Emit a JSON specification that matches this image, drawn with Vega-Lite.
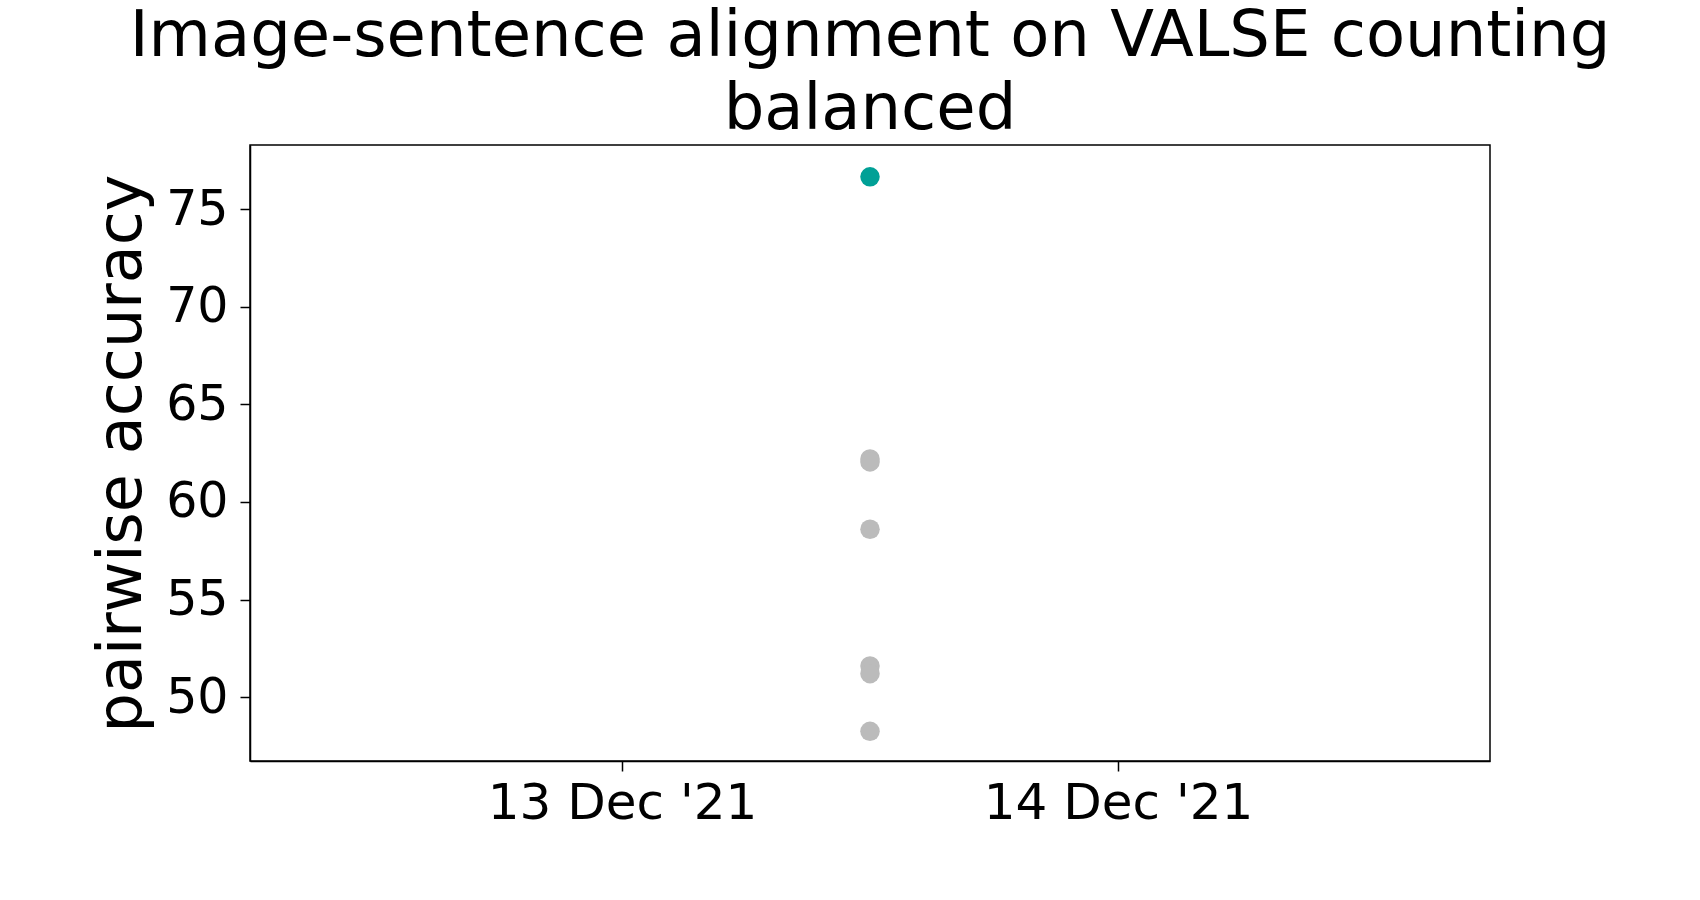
{
  "$schema": "https://vega.github.io/schema/vega-lite/v6.json",
  "autosize": "none",
  "width": 1240,
  "height": 616,
  "padding": {"left": 250, "top": 145, "right": 210, "bottom": 139},
  "background": "white",
  "title": {
    "text": ["Image-sentence alignment on VALSE counting", "balanced"],
    "font": "DejaVu Sans",
    "fontSize": 64,
    "fontWeight": "normal",
    "lineHeight": 73,
    "anchor": "middle",
    "frame": "group",
    "color": "black",
    "offset": 3
  },
  "data": {
    "values": [
      {"date": "2021-12-13T12:00:00Z", "accuracy": 76.65, "group": "best"},
      {"date": "2021-12-13T12:00:00Z", "accuracy": 62.2, "group": "other"},
      {"date": "2021-12-13T12:00:00Z", "accuracy": 62.05, "group": "other"},
      {"date": "2021-12-13T12:00:00Z", "accuracy": 58.6, "group": "other"},
      {"date": "2021-12-13T12:00:00Z", "accuracy": 51.6, "group": "other"},
      {"date": "2021-12-13T12:00:00Z", "accuracy": 51.2, "group": "other"},
      {"date": "2021-12-13T12:00:00Z", "accuracy": 48.25, "group": "other"}
    ]
  },
  "mark": {"type": "circle", "size": 380, "opacity": 1},
  "encoding": {
    "x": {
      "field": "date",
      "type": "temporal",
      "scale": {
        "type": "utc",
        "domain": [
          {"year": 2021, "month": 12, "date": 12, "hours": 6, "utc": true},
          {"year": 2021, "month": 12, "date": 14, "hours": 18, "utc": true}
        ]
      },
      "axis": {
        "title": null,
        "values": [
          {"year": 2021, "month": 12, "date": 13, "utc": true},
          {"year": 2021, "month": 12, "date": 14, "utc": true}
        ],
        "labelExpr": "utcFormat(datum.value, '%d %b \\'%y')",
        "labelLimit": 0,
        "grid": false,
        "labelFont": "DejaVu Sans",
        "labelFontSize": 50,
        "labelColor": "black",
        "labelPadding": 7,
        "tickSize": 10,
        "tickColor": "black",
        "tickWidth": 1.5,
        "domainColor": "black",
        "domainWidth": 1.5
      }
    },
    "y": {
      "field": "accuracy",
      "type": "quantitative",
      "scale": {"domain": [46.73, 78.28], "nice": false, "zero": false},
      "axis": {
        "title": "pairwise accuracy",
        "titleFont": "DejaVu Sans",
        "titleFontSize": 62,
        "titleFontWeight": "normal",
        "titleColor": "black",
        "titlePadding": 12,
        "values": [50, 55, 60, 65, 70, 75],
        "grid": false,
        "labelFont": "DejaVu Sans",
        "labelFontSize": 49,
        "labelColor": "black",
        "labelPadding": 12,
        "tickSize": 10,
        "tickColor": "black",
        "tickWidth": 1.5,
        "domainColor": "black",
        "domainWidth": 1.5
      }
    },
    "color": {
      "field": "group",
      "type": "nominal",
      "scale": {"domain": ["best", "other"], "range": ["#00a096", "#bbbbbb"]},
      "legend": null
    }
  },
  "config": {
    "view": {"stroke": "black", "strokeWidth": 1.5}
  }
}
